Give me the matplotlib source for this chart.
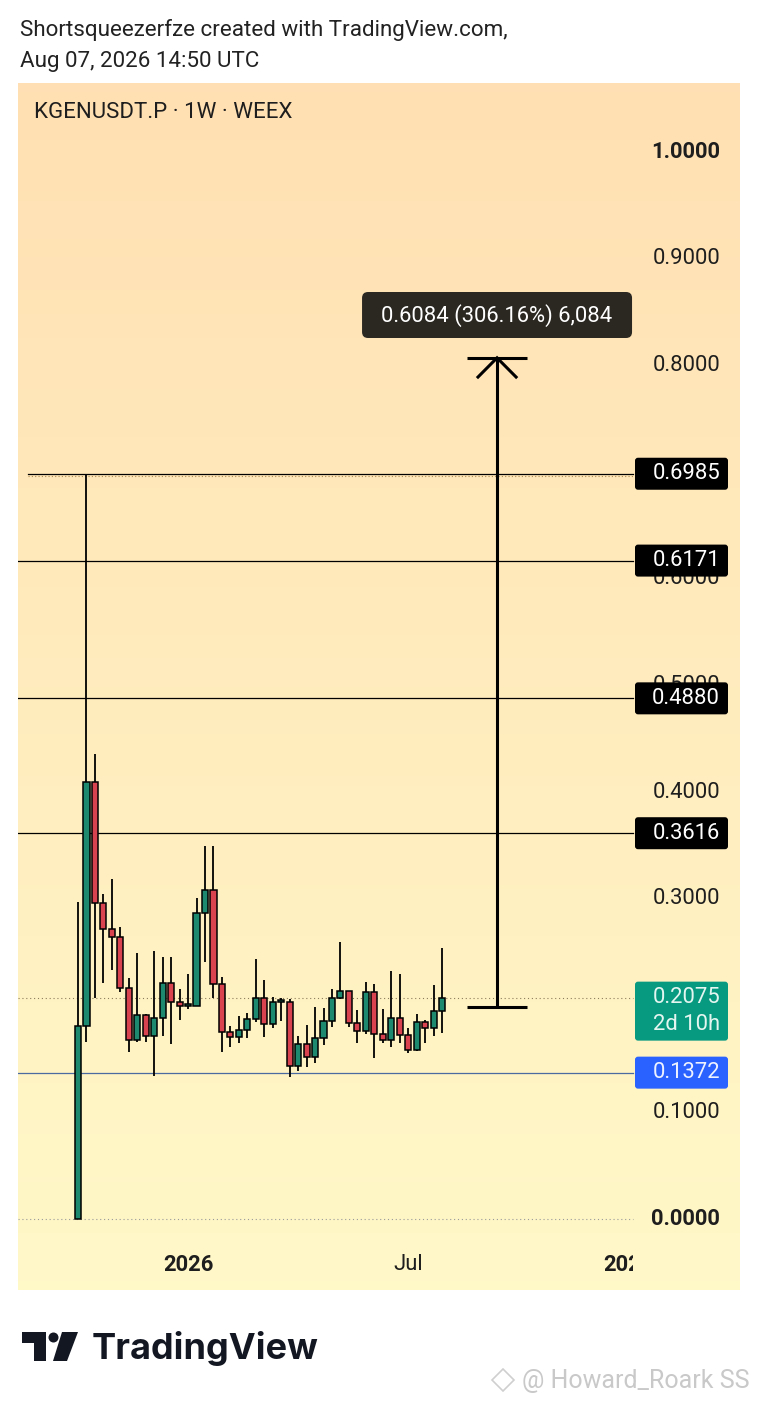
import numpy as np
import matplotlib
matplotlib.use("Agg")
import matplotlib.pyplot as plt
from matplotlib.patches import FancyBboxPatch, Polygon, Circle
from matplotlib.transforms import Bbox, TransformedBbox
from datetime import date

plt.rcParams['font.family'] = ['Roboto', 'DejaVu Sans']

# weekly candles KGENUSDT.P, first bar week of 2025-10-06
start_week = date(2025, 10, 6)
opens = [0.000, 0.181, 0.4096, 0.296, 0.272, 0.264, 0.217, 0.168, 0.191, 0.172, 0.188,
         0.221, 0.203, 0.1995, 0.1995, 0.287, 0.308, 0.220, 0.175, 0.1706, 0.177, 0.1875,
         0.207, 0.183, 0.2030, 0.203, 0.1434, 0.164, 0.152, 0.1696, 0.1856, 0.207,
         0.2137, 0.1837, 0.176, 0.2127, 0.173, 0.1678, 0.188, 0.1725, 0.158, 0.1846,
         0.179, 0.195]
highs = [0.297, 0.6985, 0.436, 0.305, 0.319, 0.274, 0.226, 0.249, 0.192, 0.251, 0.246,
         0.246, 0.216, 0.230, 0.301, 0.350, 0.350, 0.227, 0.181, 0.190, 0.193, 0.244,
         0.224, 0.208, 0.207, 0.206, 0.172, 0.182, 0.199, 0.198, 0.2156, 0.2596,
         0.2137, 0.196, 0.222, 0.220, 0.197, 0.2324, 0.2296, 0.179, 0.192, 0.1865,
         0.219, 0.254]
lows = [0.000, 0.166, 0.207, 0.221, 0.233, 0.213, 0.157, 0.166, 0.166, 0.134, 0.172,
        0.164, 0.187, 0.197, 0.1995, 0.241, 0.207, 0.157, 0.161, 0.165, 0.170, 0.185,
        0.1706, 0.179, 0.1856, 0.133, 0.1387, 0.1425, 0.146, 0.163, 0.180, 0.206,
        0.180, 0.165, 0.173, 0.151, 0.165, 0.161, 0.165, 0.1556, 0.1575, 0.165,
        0.1715, 0.1743]
closes = [0.181, 0.4096, 0.296, 0.272, 0.264, 0.217, 0.168, 0.191, 0.172, 0.188, 0.221,
          0.203, 0.200, 0.2000, 0.287, 0.308, 0.220, 0.175, 0.1706, 0.177, 0.1875, 0.207,
          0.183, 0.203, 0.2035, 0.1434, 0.164, 0.152, 0.1696, 0.1856, 0.207, 0.2137,
          0.1837, 0.176, 0.2127, 0.173, 0.1678, 0.188, 0.1725, 0.158, 0.1846, 0.179,
          0.195, 0.2075]

# horizontal levels drawn on chart
black_levels = [0.6985, 0.6171, 0.4880, 0.3616]
support_level = 0.1372
last_price = 0.2075
countdown = "2d 10h"

# price range measurement
measure_from = 0.19872
measure_to = 0.80712
measure_weeks = (46.0, 53.0)

price_ticks = [0.0, 0.1, 0.2, 0.3, 0.4, 0.5, 0.6, 0.7, 0.8, 0.9, 1.0]
time_ticks = [(date(2026, 1, 5), "2026", "bold"),
              (date(2026, 7, 6), "Jul", "normal"),
              (date(2027, 1, 4), "2027", "bold")]

UP = '#1d8a6f'
DOWN = '#d9434f'
W, H = 758, 1404
FS = 15.8

fig = plt.figure(figsize=(W / 100, H / 100), dpi=100, facecolor='white')
ax = fig.add_axes([18 / W, 114 / H, 722 / W, 1207 / H])
ax.set_xlim(-7.09, 78.2)
ax.set_ylim(-0.0665, 1.0647)
ax.axis('off')

# panel gradient
grad = np.linspace(0, 1, 256)[:, None]
c_top = np.array([1.0, 0.878, 0.702])
c_bot = np.array([1.0, 0.973, 0.784])
img = c_bot[None, None, :] * (1 - grad[:, :, None]) + c_top[None, None, :] * grad[:, :, None]
ax.imshow(img, extent=[0, 1, 0, 1], transform=ax.transAxes, aspect='auto',
          origin='lower', zorder=0)

scale_edge = (633 - 18) / 722

# levels
for lv in black_levels:
    x0 = (28 - 18) / 722 if lv == max(black_levels) else 0
    ax.axhline(lv, xmin=x0, xmax=scale_edge, color='black', lw=0.9, zorder=2)
ax.axhline(black_levels[0] - 0.0022, xmin=(28 - 18) / 722, xmax=scale_edge,
           color='#b08a50', lw=0.8, ls=(0, (1, 2)), zorder=2)
ax.axhline(support_level, xmin=0, xmax=scale_edge, color='#4a6aa0', lw=0.9, zorder=2)
ax.axhline(last_price, xmin=0, xmax=scale_edge, color='#8c7c5c', lw=0.8,
           ls=(0, (1, 2.5)), zorder=2)
ax.axhline(0.0, xmin=0, xmax=scale_edge, color='#9a9a9a', lw=0.8,
           ls=(0, (1, 2.5)), zorder=2)

# candles
o = np.array(opens)
h = np.array(highs)
l = np.array(lows)
c = np.array(closes)
xs = np.arange(len(o))
cols = [UP if cc >= oo else DOWN for oo, cc in zip(o, c)]
ax.vlines(xs, l, h, color='black', lw=1.3, zorder=3)
body = np.where(np.abs(c - o) < 0.002, 0.002, c - o)
ax.bar(xs, body, bottom=o, width=0.72, color=cols, edgecolor='black', lw=1.1, zorder=4)

# measurement arrow
mx = sum(measure_weeks) / 2
ax.plot([mx, mx], [measure_from, measure_to], color='black', lw=2.2, zorder=5,
        solid_capstyle='butt')
ax.hlines([measure_from, measure_to], measure_weeks[0], measure_weeks[1],
          color='black', lw=2.2, zorder=5)
ax.plot([mx - 2.25, mx, mx + 2.25], [measure_to - 0.018, measure_to, measure_to - 0.018],
        color='black', lw=2.2, zorder=5, solid_joinstyle='miter')

# price scale tick labels
for p in price_ticks:
    ax.text((720 - 18) / 722, p, f"{p:.4f}", transform=ax.get_yaxis_transform(),
            ha='right', va='center', fontsize=FS, color='#1e1e1e',
            fontweight='bold' if p in (0.0, 1.0) else 'normal', zorder=6)

# time scale labels, cut at the price scale
clipbox = TransformedBbox(Bbox([[0, 0], [scale_edge, 1]]), ax.transAxes)
for d, lab, wt in time_ticks:
    wk = (d - start_week).days / 7
    t = ax.text(wk, (1290 - 1265) / 1207, lab, transform=ax.get_xaxis_transform(),
                ha='center', va='center', fontsize=FS, fontweight=wt, color='#1e1e1e',
                zorder=6)
    t.set_clip_on(True)
    t.set_clip_box(clipbox)

# overlay in pixel coordinates for labels, header and footer
ov = fig.add_axes([0, 0, 1, 1], zorder=10)
ov.set_xlim(0, W)
ov.set_ylim(H, 0)
ov.axis('off')
ov.patch.set_alpha(0)


def py(price):
    return H - ax.transData.transform((0, price))[1]


def price_box(price, fc, tc, lines, height=32):
    y = py(price)
    ov.add_patch(FancyBboxPatch((635, y - 16), 93, height,
                                boxstyle='round,pad=0,rounding_size=3',
                                fc=fc, ec='none', zorder=11))
    for i, s in enumerate(lines):
        ov.text(720, y + i * 27, s, ha='right', va='center', fontsize=FS, color=tc,
                zorder=12)


for lv in black_levels:
    price_box(lv, 'black', 'white', [f"{lv:.4f}"])
price_box(last_price, '#089981', '#e4f6f0', [f"{last_price:.4f}", countdown], height=59)
price_box(support_level, '#2962ff', '#eef2ff', [f"{support_level:.4f}"])

# measurement label
diff = measure_to - measure_from
pct = diff / measure_from * 100
mpx = ax.transData.transform((mx, 0))[0]
ov.add_patch(FancyBboxPatch((mpx - 135, 292), 270, 46, boxstyle='round,pad=0,rounding_size=6',
                            fc='#2b2822', ec='none', zorder=11))
ov.text(mpx, 316, f"{diff:.4f} ({pct:.2f}%) {diff * 10000:,.0f}", ha='center', va='center',
        fontsize=FS, color='white', zorder=12)

# header
ov.text(20, 30, "Shortsqueezerfze created with TradingView.com,", ha='left', va='center',
        fontsize=16.1, color='#222222')
ov.text(20, 61, "Aug 07, 2026 14:50 UTC", ha='left', va='center', fontsize=16.1,
        color='#222222')
ax.text((34 - 18) / 722, (1290 - 112) / 1207, "KGENUSDT.P · 1W · WEEX", transform=ax.transAxes,
        ha='left', va='center', fontsize=16, color='#1e1e1e', zorder=6)

# footer logo
ov.add_patch(Polygon([(22, 1332), (46, 1332), (46, 1361), (34, 1361), (34, 1343), (22, 1343)],
                     closed=True, fc='#131722', ec='none'))
ov.add_patch(Circle((53.5, 1337.5), 5, fc='#131722', ec='none'))
ov.add_patch(Polygon([(62, 1332), (78, 1332), (67, 1361), (53, 1361)], closed=True,
                     fc='#131722', ec='none'))
ov.text(92, 1349, "TradingView", ha='left', va='center', fontsize=26, fontweight='bold',
        color='#131722', family=['Inter', 'DejaVu Sans'])

# watermark
ov.text(750, 1381, "@ Howard_Roark SS", ha='right', va='center', fontsize=18,
        color='#c9c9c9', family=['Roboto', 'DejaVu Sans'])
ov.add_patch(Polygon([(503, 1369), (514, 1380), (503, 1391), (492, 1380)], closed=True,
                     fc='none', ec='#cfcfcf', lw=1.2))

fig.savefig('out.png', dpi=100, facecolor='white')
